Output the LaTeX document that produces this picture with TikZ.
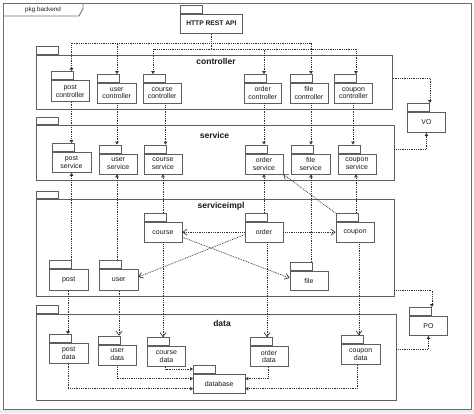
\documentclass[tikz,border=0pt]{standalone}
\usepackage{fontspec}
\setmainfont{Liberation Sans}
\usetikzlibrary{arrows.meta,calc}
\definecolor{boxc}{HTML}{5E5E5E}
\definecolor{linec}{HTML}{2E2E2E}
\definecolor{txtc}{HTML}{1A1A1A}
\newcommand{\pkgbox}[6][]{%
  \node[pkbody,minimum width=#4pt,minimum height=#5pt,anchor=north west] (#2) at (#3) {#6};
  \node[pktab,#1,anchor=south west] (#2T) at (#2.north west) {};}
\tikzset{
  pkbody/.style={draw=boxc, line width=0.85pt, fill=white, inner sep=0pt, align=center, text=txtc, font=\fontsize{7}{7.8}\selectfont},
  pktab/.style={draw=boxc, line width=0.85pt, fill=white, inner sep=0pt, minimum width=22pt, minimum height=8pt},
  bigtab/.style={minimum width=21.6pt, minimum height=7.6pt},
  httptab/.style={minimum width=22pt, minimum height=7.5pt},
  pklabel/.style={font=\bfseries\fontsize{8.5}{9}\selectfont, text=txtc, inner sep=0pt},
  dep/.style={draw=linec, line width=0.65pt, dash pattern=on 0.9pt off 0.9pt, -{Triangle[open,length=3pt,width=3.5pt]}},
  depv/.style={draw=linec, line width=0.65pt, dash pattern=on 0.9pt off 0.9pt, -{Straight Barb[length=4pt,width=6pt]}}
}
\begin{document}
\begin{tikzpicture}[x=1pt,y=-1pt]
\useasboundingbox (0,0) rectangle (474,413);
\fill[black!8] (0,410) rectangle (474,413);
% outer frame
\node[draw=boxc!90, line width=0.85pt, minimum width=468pt, minimum height=406pt, anchor=north west, inner sep=0pt] (frame) at (3,3) {};
\draw[boxc!90, line width=0.85pt] (3,16) -- (79,16) -- (83,8.5) -- (83,3);
\node[font=\fontsize{6.3}{7}\selectfont, text=txtc, inner sep=0pt] (pkglbl) at (43,10) {pkg backend};

% packages
\pkgbox[bigtab]{ctrl}{36,54.5}{356}{54}{}
\pkgbox[bigtab]{svc}{36,125}{357.5}{55}{}
\pkgbox[bigtab]{simpl}{36,199}{357.5}{96.5}{}
\pkgbox[bigtab]{data}{36,313.5}{359.5}{86}{}
\node[pklabel] (lctrl) at (216,61.5) {controller};
\node[pklabel] (lsvc) at (214.5,135) {service};
\node[pklabel] (lsimpl) at (221,206) {serviceimpl};
\node[pklabel] (ldata) at (222,323.5) {data};

% HTTP
\pkgbox[httptab]{http}{180,13.5}{62}{19.5}{\bfseries\fontsize{6.7}{7}\selectfont HTTP REST API}

% controllers
\pkgbox{pc}{51,80}{37.5}{21}{post\\controller}
\pkgbox{uc}{97,83}{38.5}{19.5}{user\\controller}
\pkgbox{cc}{142.5,83}{38.5}{19.5}{course\\controller}
\pkgbox{oc}{243.5,83}{37.5}{19.5}{order\\controller}
\pkgbox{fc}{289.5,83}{38}{19.5}{file\\controller}
\pkgbox{coc}{334,83}{38}{19.5}{coupon\\controller}

% services
\pkgbox{ps}{51.5,152}{39}{20}{post\\service}
\pkgbox{us}{98.5,153.5}{38.5}{20}{user\\service}
\pkgbox{cs}{143.5,153.5}{38}{20}{course\\service}
\pkgbox{os}{244.5,153.5}{38}{20}{order\\service}
\pkgbox{fs}{291,153.5}{38.5}{20}{file\\service}
\pkgbox{cos}{337.5,153.5}{38}{20}{coupon\\service}

% serviceimpl
\pkgbox{ci}{143.5,222}{38}{19.5}{course}
\pkgbox{oi}{244.5,222}{38}{19.5}{order}
\pkgbox{coi}{335.5,222}{38.5}{19.5}{coupon}
\pkgbox{fi}{289.5,271}{38}{19}{file}
\pkgbox{pi}{49,269}{38.5}{21}{post}
\pkgbox{ui}{99,269}{38.5}{21}{user}

% data
\pkgbox{pd}{49,343}{38.5}{20}{post\\data}
\pkgbox{ud}{97.5,344.5}{38.5}{20}{user\\data}
\pkgbox{cd}{147,346}{38}{20}{course\\data}
\pkgbox{db}{193,373.5}{51.5}{19.5}{database}
\pkgbox{od}{249.5,346}{38}{20}{order\\data}
\pkgbox{cod}{341,344}{38.5}{20}{coupon\\data}

% VO / PO
\pkgbox{vo}{407,112}{38}{20}{VO}
\pkgbox{po}{409,316}{38}{19}{PO}

% columns
\coordinate (xA) at (71.5,0);
\coordinate (xA2) at (68,0);
\coordinate (xB) at (117,0);
\coordinate (xB2) at (119,0);
\coordinate (xC) at (153,0);
\coordinate (xC2) at (165.5,0);
\coordinate (xC3) at (163,0);
\coordinate (xD) at (264,0);
\coordinate (xD2) at (267,0);
\coordinate (xD3) at (268.3,0);
\coordinate (xE) at (311,0);
\coordinate (xF) at (356,0);
\coordinate (xF2) at (353,0);
\coordinate (xF3) at (359,0);
\coordinate (xF4) at (357.5,0);

% HTTP -> controllers
\draw[dep] (http.south) -- ++(0,9) -| (xA |- pcT.north);
\draw[dep] (http.south) -- ++(0,9) -| (xB |- ucT.north);
\draw[dep] (http.south) -- ++(0,15) -| (xC |- ccT.north);
\draw[dep] (http.south) -- ++(0,15) -| (xD |- ocT.north);
\draw[dep] (http.south) -- ++(0,9) -| (xE |- fcT.north);
\draw[dep] (http.south) -- ++(0,15) -| (xF |- cocT.north);

% controllers -> services
\draw[dep] (xA |- pc.south) -- (xA |- psT.north);
\draw[dep] (xB |- uc.south) -- (xB |- usT.north);
\draw[dep] (xC2 |- cc.south) -- (xC2 |- csT.north);
\draw[dep] (xD |- oc.south) -- (xD |- osT.north);
\draw[dep] (xE |- fc.south) -- (xE |- fsT.north);
\draw[dep] (xF2 |- coc.south) -- (xF2 |- cosT.north);

% impl -> services
\draw[dep] (xA |- piT.north) -- (xA |- ps.south);
\draw[dep] (xB |- uiT.north) -- (xB |- us.south);
\draw[dep] (xC3 |- ciT.north) -- (xC3 |- cs.south);
\draw[dep] (xD |- oiT.north) -- (xD |- os.south);
\draw[dep] (xE |- fiT.north) -- (xE |- fs.south);
\draw[dep] (xF |- coiT.north) -- (xF |- cos.south);
\draw[depv] (coiT.north west) -- (os.south east);

% impl internal
\draw[depv] (oi.west) -- (ci.east);
\draw[depv] (oi.east) -- (coi.west);
\draw[depv] ([yshift=-5pt]ci.east) -- ([yshift=3pt]fi.west);
\draw[depv] ([yshift=-2.5pt]oi.west) -- ([yshift=3pt]ui.east);

% impl -> data
\draw[dep] (xA2 |- pi.south) -- (xA2 |- pdT.north);
\draw[depv] (xB2 |- ui.south) -- (xB2 |- udT.north);
\draw[depv] (xC3 |- ci.south) -- (xC3 |- cdT.north);
\draw[depv] (xD2 |- oi.south) -- (xD2 |- odT.north);
\draw[depv] (xF3 |- coi.south) -- (xF3 |- codT.north);

% data -> database
\draw[dep] (xC2 |- cd.south) |- (dbT.west);
\draw[dep] (xB |- ud.south) |- ([yshift=5pt]db.west);
\draw[dep] (xA2 |- pd.south) |- ([yshift=-5pt]db.west);
\draw[dep] (xD3 |- od.south) |- ([yshift=5pt]db.east);
\draw[dep] (xF4 |- cod.south) |- ([yshift=-5pt]db.east);

% VO / PO
\draw[dep] ([yshift=4pt]ctrl.east) -| (voT.north east);
\draw[dep] ([yshift=3.5pt]svc.east) -| (vo.south);
\draw[dep] ([yshift=6pt]simpl.south east) -| (poT.north east);
\draw[dep] ([yshift=7.5pt]data.east) -| (po.south);
\end{tikzpicture}
\end{document}
